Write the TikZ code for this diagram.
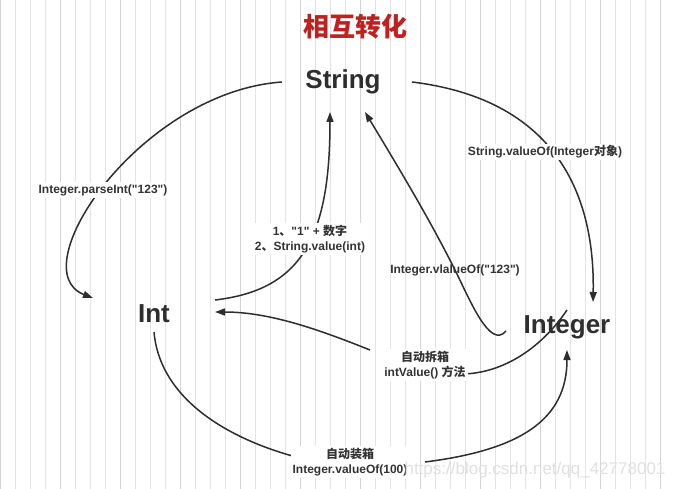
\documentclass[tikz,border=0pt]{standalone}
\usepackage{fontspec}
\setmainfont{Liberation Sans}
\newfontfamily\cjk{Noto Sans CJK SC}
\usetikzlibrary{arrows.meta}
\newcommand{\qq}{\textquotedbl}
\begin{document}
\begin{tikzpicture}[x=1pt,y=-1pt,
  big/.style={font=\fontsize{26}{30}\selectfont\bfseries,text=black!82},
  lab/.style={font=\fontsize{12}{15}\selectfont\bfseries,text=black!80,fill=white,align=center,inner sep=2pt},
  con/.style={line width=1.5pt,draw=black!82},
  arr/.style={con,-{Triangle[length=10pt,width=7pt]}}]
\useasboundingbox (0,0) rectangle (675,489);
\fill[white] (0,0) rectangle (675,489);
\draw[black!11,line width=0.8pt] (0,0) grid[step=15] (675,489);
\draw[black!17,line width=0.9pt] (0,0) grid[step=60] (675,489);
\node[font=\cjk\fontsize{26}{30}\selectfont\bfseries,text={rgb,255:red,192;green,32;blue,32}] (t) at (355,27) {相互转化};
\node[big] (s) at (343,82) {String};
\node[big] (i) at (154,314) {Int};
\node[big] (g) at (567,327) {Integer};
\coordinate (s1) at (282,82);
\coordinate (i1) at (93,298);
\draw[arr] (s1) .. controls (140,92) and (20,270) .. (i1);
\node[lab] (l1) at (103,190) {Integer.parseInt(\qq123\qq)};
\coordinate (i2) at (215,300);
\coordinate (s2) at (330,112);
\draw[arr] (i2) .. controls (300,290) and (330,240) .. (s2);
\node[lab] (l2) at (310,239) {1{\cjk 、}\qq1\qq{} + {\cjk 数字}\\2{\cjk 、}String.value(int)};
\coordinate (s3) at (412,82);
\coordinate (g3) at (593,302);
\draw[arr] (s3) .. controls (560,100) and (595,200) .. (g3);
\node[lab] (l3) at (545,152) {String.valueOf(Integer{\cjk 对象})};
\coordinate (g4) at (506,331);
\coordinate (s4) at (365,112);
\draw[arr] (g4) .. controls (490,350) and (470,300) .. (455,270) .. controls (430,220) and (400,170) .. (s4);
\node[lab,fill=none] (l4) at (455,270) {Integer.vlalueOf(\qq123\qq)};
\coordinate (g5) at (567,310);
\coordinate (i5) at (215,312);
\draw[con] (g5) .. controls (540,350) and (500,375) .. (458,374);
\draw[arr] (370,350) .. controls (320,330) and (270,312) .. (i5);
\node[lab] (l5) at (425,365) {{\cjk 自动拆箱}\\intValue() {\cjk 方法}};
\coordinate (i6) at (154,332);
\coordinate (g6) at (567,350);
\draw[con] (i6) .. controls (160,400) and (230,440) .. (300,458);
\draw[arr] (425,462) .. controls (520,450) and (567,420) .. (g6);
\node[lab] (l6) at (350,462) {{\cjk 自动装箱}\\Integer.valueOf(100)};
\node[font=\fontsize{17}{20}\selectfont,text=black!12] (w) at (535,470) {https://blog.csdn.net/qq\_42778001};
\end{tikzpicture}
\end{document}
